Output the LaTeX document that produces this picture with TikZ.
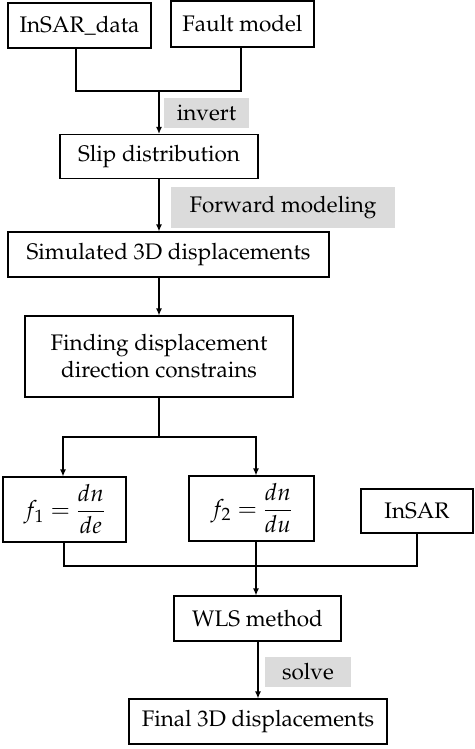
\documentclass[tikz,border=0pt]{standalone}
\usepackage[T1]{fontenc}
\usepackage{mathpazo}
\usetikzlibrary{arrows.meta}
\begin{document}
\begin{tikzpicture}[x=1pt,y=-1pt,
  box/.style={draw=black, line width=1.1pt, fill=white, inner sep=0pt, align=center,
    font=\fontsize{22.5}{27}\selectfont},
  mbox/.style={box, font=\fontsize{23.5}{28}\selectfont},
  lbl/.style={fill=black!14, inner sep=0pt, font=\fontsize{22.5}{27}\selectfont},
  conn/.style={line width=1.3pt},
  arr/.style={line width=1.3pt, -{Latex[length=7pt,width=6pt]}}]
\useasboundingbox (0,0) rectangle (474,749);
\node[box, minimum width=143pt, minimum height=45pt] (insard) at (79.5,25.5) {InSAR\_data};
\node[box, minimum width=143pt, minimum height=46pt] (fault) at (242.5,24) {Fault model};
\node[lbl, minimum width=85pt, minimum height=30pt] (invert) at (206.5,113) {invert};
\node[box, minimum width=198pt, minimum height=44pt] (slip) at (159,156.5) {Slip distribution};
\node[lbl, minimum width=224pt, minimum height=41pt] (fwd) at (283,207.5) {Forward modeling};
\node[box, minimum width=321pt, minimum height=45pt] (sim) at (168.5,254.5) {Simulated 3D displacements};
\node[box, minimum width=268pt, minimum height=81pt] (find) at (159,356.5) {Finding displacement\\direction constrains};
\node[mbox, minimum width=123pt, minimum height=65pt] (f1) at (64.5,509.5) {$\displaystyle f_1=\frac{dn}{de}$};
\node[mbox, minimum width=125pt, minimum height=65pt] (f2) at (251.5,508.5) {$\displaystyle f_2=\frac{dn}{du}$};
\node[box, minimum width=112pt, minimum height=44pt] (insar) at (417,511) {InSAR};
\node[box, minimum width=167pt, minimum height=45pt] (wls) at (257.5,618.5) {WLS method};
\node[lbl, minimum width=86pt, minimum height=30pt] (solve) at (308,672) {solve};
\node[box, minimum width=258pt, minimum height=45pt] (final) at (258,721.5) {Final 3D displacements};
\coordinate (j1) at (159,91);
\coordinate (j2) at (159,437);
\coordinate (j3) at (256,566);
\draw[conn] ([xshift=-3.5pt]insard.south) |- (j1) -| ([xshift=-1.5pt]fault.south);
\draw[arr] (j1) -- (slip.north);
\draw[arr] (slip.south) -- (slip.south |- sim.north);
\draw[arr] (sim.south -| find.north) -- (find.north);
\draw[conn] (find.south) -- (j2);
\draw[arr] (j2) -| ([xshift=-1.5pt]f1.north);
\draw[arr] (j2) -| ([xshift=4.5pt]f2.north);
\draw[conn] ([xshift=-0.5pt]f1.south) |- (j3) -| (insar.south);
\draw[arr] ([xshift=4.5pt]f2.south) -- (j3 |- wls.north);
\draw[arr] (wls.south -| final.north) -- (final.north);
\end{tikzpicture}
\end{document}
